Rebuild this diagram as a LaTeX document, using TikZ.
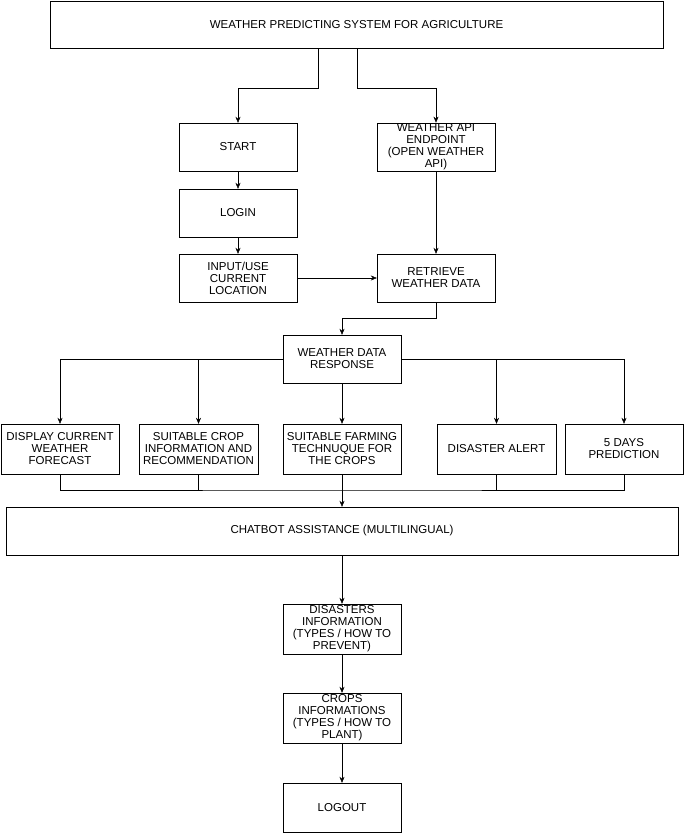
\documentclass[tikz,border=0pt]{standalone}
\usepackage{fontspec}
\setmainfont{Liberation Sans}
\usetikzlibrary{arrows.meta}
\tikzset{
  box/.style={draw, thin, align=center, font=\fontsize{11.5}{12}\selectfont, inner sep=1pt},
  flow/.style={-{Stealth[length=6pt,width=5pt]}, thin}
}
\begin{document}
\begin{tikzpicture}[x=1pt,y=-1pt]
    \useasboundingbox (0,0) rectangle (685,834);
    % Top part
    \node[box, minimum width=613, minimum height=47] (title) at (356.5,24.5) {WEATHER PREDICTING SYSTEM FOR AGRICULTURE};
    \node[box, minimum width=118, minimum height=48] (start) at (238,147) {START};
    \node[box, minimum width=118, minimum height=48] (login) at (238,213) {LOGIN};
    \node[box, minimum width=118, minimum height=48] (input) at (238,278) {INPUT/USE\\CURRENT\\LOCATION};
    \node[box, minimum width=118, minimum height=48] (api) at (436,147) {WEATHER API\\ENDPOINT\\(OPEN WEATHER\\API)};
    \node[box, minimum width=118, minimum height=48] (retrieve) at (436,278) {RETRIEVE\\WEATHER DATA};
    \node[box, minimum width=118, minimum height=48] (response) at (342,359) {WEATHER DATA\\RESPONSE};

    % Features row
    \node[box, minimum width=118, minimum height=50] (display) at (60,449) {DISPLAY CURRENT\\WEATHER\\FORECAST};
    \node[box, minimum width=119, minimum height=50] (crop) at (198.5,449) {SUITABLE CROP\\INFORMATION AND\\RECOMMENDATION};
    \node[box, minimum width=118, minimum height=50] (farming) at (342,449) {SUITABLE FARMING\\TECHNUQUE FOR\\THE CROPS};
    \node[box, minimum width=119, minimum height=50] (alert) at (496.5,449) {DISASTER ALERT};
    \node[box, minimum width=118, minimum height=50] (days) at (624,449) {5 DAYS\\PREDICTION};

    % Bottom part
    \node[box, minimum width=672, minimum height=48] (chatbot) at (342,531) {CHATBOT ASSISTANCE (MULTILINGUAL)};
    \node[box, minimum width=118, minimum height=50] (disinfo) at (342,629) {DISASTERS\\INFORMATION\\(TYPES / HOW TO\\PREVENT)};
    \node[box, minimum width=118, minimum height=50] (cropinfo) at (342,718) {CROPS\\INFORMATIONS\\(TYPES / HOW TO\\PLANT)};
    \node[box, minimum width=118, minimum height=49] (logout) at (342,807.5) {LOGOUT};

    % Connectors
    \coordinate (b1) at (318,88);
    \coordinate (b2) at (357,88);
    \draw[flow] (title.south -| b1) |- (b1) -| (start.north);
    \draw[flow] (title.south -| b2) |- (b2) -| (api.north);
    \draw[flow] (start) -- (login);
    \draw[flow] (login) -- (input);
    \draw[flow] (input) -- (retrieve);
    \draw[flow] (api) -- (retrieve);
    \coordinate (b3) at (436,318);
    \draw[flow] (retrieve.south) -- (b3) -| (response.north);
    \draw[flow] (response.west) -| (display.north);
    \draw[flow] (response.east) -| (days.north);
    \draw[flow] (response.west -| crop.north) -- (crop.north);
    \draw[flow] (response.east -| alert.north) -- (alert.north);
    \draw[flow] (response) -- (farming);
    \coordinate (m) at (342,490);
    \draw (display.south) |- (m) -| (days.south);
    \draw (crop.south) -- (crop.south |- m);
    \draw (alert.south) -- (alert.south |- m);
    \draw[flow] (farming) -- (chatbot);
    \draw[flow] (chatbot) -- (disinfo);
    \draw[flow] (disinfo) -- (cropinfo);
    \draw[flow] (cropinfo) -- (logout);
\end{tikzpicture}
\end{document}
